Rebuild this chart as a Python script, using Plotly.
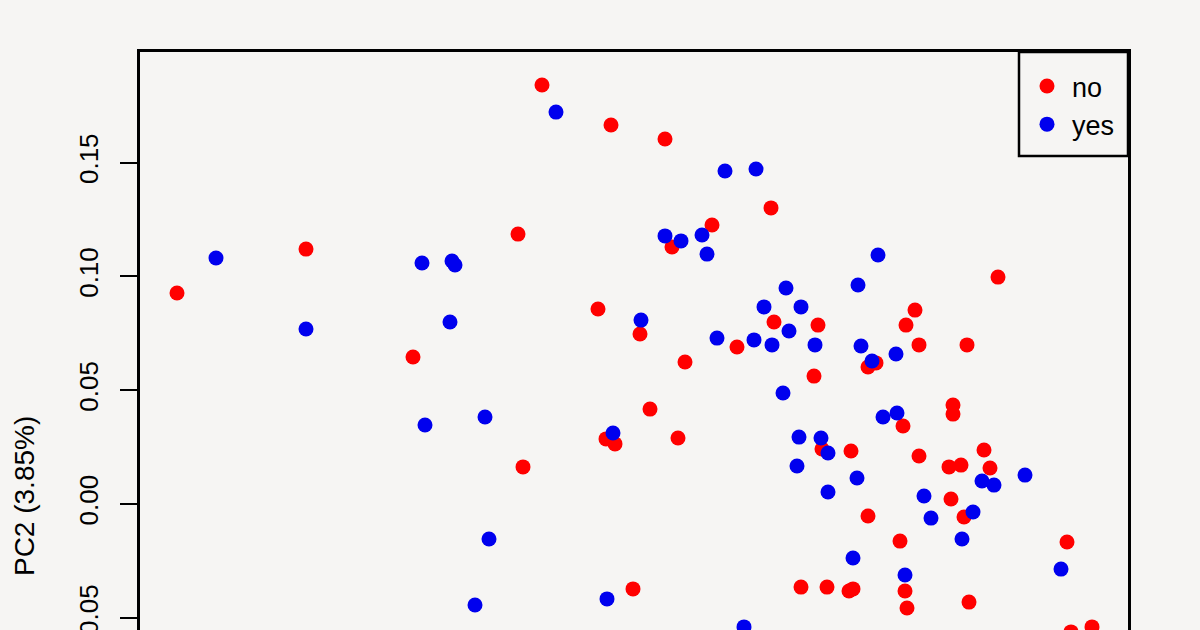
import plotly.graph_objects as go

# PC scores
no_pc1 = [-0.4115, -0.347, -0.2935, -0.241, -0.229, -0.201, -0.1945, -0.1675, -0.18, -0.164,
          -0.144, -0.1145, -0.1315, -0.1575, -0.175, -0.197, -0.1925, -0.161, -0.2385, -0.1835,
          -0.113, -0.091, -0.047, -0.0425, -0.001, -0.0405, -0.0165, -0.093, -0.066, -0.062,
          -0.0485, -0.0235, -0.0235, -0.089, -0.0745, -0.0405, -0.008, -0.0255, -0.0195, -0.005,
          -0.0245, -0.066, -0.018, -0.05, 0.0335, -0.0995, -0.0865, -0.0735, -0.0755, -0.0475,
          -0.0465, -0.0155, 0.0355, 0.046]
no_pc2 = [0.0927, 0.1120, 0.0646, 0.1186, 0.1841, 0.0857, 0.1665, 0.1604, 0.0747, 0.1129,
          0.1226, 0.1301, 0.0690, 0.0624, 0.0417, 0.0286, 0.0264, 0.0290, 0.0163, -0.0373,
          0.0800, 0.0786, 0.0786, 0.0852, 0.0997, 0.0699, 0.0699, 0.0562, 0.0602, 0.0620,
          0.0343, 0.0435, 0.0395, 0.0242, 0.0233, 0.0211, 0.0237, 0.0163, 0.0171, 0.0158,
          0.0022, -0.0053, -0.0057, -0.0163, -0.0167, -0.0365, -0.0365, -0.0373, -0.0382, -0.0382,
          -0.0457, -0.0431, -0.0562, -0.0540]

yes_pc1 = [-0.392, -0.347, -0.289, -0.274, -0.2725, -0.275, -0.2875, -0.2575, -0.2555, -0.2625,
           -0.222, -0.1375, -0.122, -0.1675, -0.1595, -0.149, -0.1465, -0.107, -0.118, -0.0995,
           -0.1055, -0.1795, -0.1415, -0.123, -0.114, -0.1935, -0.1965, -0.128, -0.061, -0.071,
           -0.0925, -0.0695, -0.052, -0.064, -0.1085, -0.0585, -0.0515, -0.1005, -0.0895, -0.086,
           -0.1015, -0.0715, -0.009, -0.003, 0.0125, -0.086, -0.038, -0.0345, -0.0135, -0.019,
           -0.0735, 0.0305, -0.0475]
yes_pc2 = [0.1081, 0.0769, 0.1059, 0.1068, 0.1050, 0.0800, 0.0347, 0.0382, -0.0154, -0.0444,
           0.1722, 0.1463, 0.1472, 0.1178, 0.1156, 0.1182, 0.1098, 0.0949, 0.0866, 0.0866,
           0.0760, 0.0808, 0.0729, 0.0721, 0.0699, 0.0312, -0.0417, -0.0540, 0.1094, 0.0962,
           0.0699, 0.0694, 0.0659, 0.0628, 0.0488, 0.0382, 0.0400, 0.0294, 0.0290, 0.0224,
           0.0167, 0.0114, 0.0101, 0.0083, 0.0127, 0.0053, 0.0035, -0.0062, -0.0035, -0.0154,
           -0.0237, -0.0286, -0.0312]

y_ticks = [-0.05, 0.0, 0.05, 0.10, 0.15]
y_tick_labels = ["-0.05", "0.00", "0.05", "0.10", "0.15"]
group_names = ["no", "yes"]
y_title = "PC2 (3.85%)"

BG = "#f6f5f3"
FONT = "Liberation Sans, Arial, Helvetica, sans-serif"
W, H = 1200, 630
L, R, T = 140, 72, 52
PW, PH = W - L - R, H - T


def px_x(p):
    return (p - L) / PW


def px_y(p):
    return (H - p) / PH


fig = go.Figure()
fig.add_trace(go.Scatter(x=no_pc1, y=no_pc2, mode="markers", name=group_names[0],
                         marker=dict(color="#ff0000", size=15, line=dict(width=0))))
fig.add_trace(go.Scatter(x=yes_pc1, y=yes_pc2, mode="markers", name=group_names[1],
                         marker=dict(color="#0000ee", size=15, line=dict(width=0))))

fig.update_layout(
    width=W, height=H,
    margin=dict(l=L, r=R, t=T, b=0, pad=0, autoexpand=False),
    paper_bgcolor=BG, plot_bgcolor=BG,
    font=dict(family=FONT, color="black", size=26),
    showlegend=True,
    legend=dict(x=px_x(1022), y=px_y(62), xanchor="left", yanchor="top",
                bgcolor="rgba(0,0,0,0)", borderwidth=0,
                font=dict(size=27, family=FONT),
                itemsizing="trace", itemwidth=40, tracegroupgap=0),
    xaxis=dict(range=[-0.43, 0.064], side="top", showline=True, linecolor="black",
               linewidth=3, showticklabels=False, ticks="", showgrid=False,
               zeroline=False, automargin=False),
    yaxis=dict(range=[-0.05536, 0.1986], showline=True, mirror=True, linecolor="black",
               linewidth=3, tickvals=y_ticks, ticktext=y_tick_labels, ticks="outside",
               ticklen=17, tickwidth=2, tickcolor="black", tickangle=-90,
               tickfont=dict(size=26, family=FONT), showgrid=False, zeroline=False,
               ticklabelstandoff=12, ticklabeloverflow="allow", automargin=False),
)
# legend frame
fig.add_shape(type="rect", xref="paper", yref="paper",
              x0=px_x(1019), x1=1.0, y0=px_y(156), y1=1.0,
              line=dict(color="black", width=2.5), fillcolor="rgba(0,0,0,0)", layer="above")
fig.add_annotation(text=y_title, xref="paper", yref="y", x=px_x(24), y=0.0035,
                   xanchor="center", yanchor="middle", textangle=-90, showarrow=False,
                   font=dict(size=28, family=FONT))

fig.write_html("out.html", config={"displayModeBar": False},
               post_script="document.body.style.margin='0';document.body.style.background='%s';" % BG)
